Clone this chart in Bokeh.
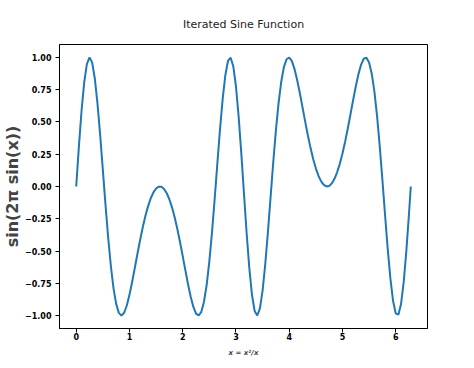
from bokeh.plotting import figure
from bokeh.models import FixedTicker, CustomJSTickFormatter, Range1d
from bokeh.embed import file_html
from bokeh.resources import INLINE

x_vals = [0.00, 0.05, 0.10, 0.15, 0.20, 0.25, 0.30, 0.35, 0.40, 0.45,
          0.50, 0.55, 0.60, 0.65, 0.70, 0.75, 0.80, 0.85, 0.90, 0.95,
          1.00, 1.05, 1.10, 1.15, 1.20, 1.25, 1.30, 1.35, 1.40, 1.45,
          1.50, 1.55, 1.60, 1.65, 1.70, 1.75, 1.80, 1.85, 1.90, 1.95,
          2.00, 2.05, 2.10, 2.15, 2.20, 2.25, 2.30, 2.35, 2.40, 2.45,
          2.50, 2.55, 2.60, 2.65, 2.70, 2.75, 2.80, 2.85, 2.90, 2.95,
          3.00, 3.05, 3.10, 3.15, 3.20, 3.25, 3.30, 3.35, 3.40, 3.45,
          3.50, 3.55, 3.60, 3.65, 3.70, 3.75, 3.80, 3.85, 3.90, 3.95,
          4.00, 4.05, 4.10, 4.15, 4.20, 4.25, 4.30, 4.35, 4.40, 4.45,
          4.50, 4.55, 4.60, 4.65, 4.70, 4.75, 4.80, 4.85, 4.90, 4.95,
          5.00, 5.05, 5.10, 5.15, 5.20, 5.25, 5.30, 5.35, 5.40, 5.45,
          5.50, 5.55, 5.60, 5.65, 5.70, 5.75, 5.80, 5.85, 5.90, 5.95,
          6.00, 6.05, 6.10, 6.15, 6.20, 6.25, 6.2832]

y_vals = [0.0000, 0.3088, 0.5870, 0.8070, 0.9484, 0.9999, 0.9593, 0.8344, 0.6402, 0.3973,
          0.1290, -0.1421, -0.3951, -0.6139, -0.7871, -0.9091, -0.9790, -1.0000, -0.9782, -0.9216,
          -0.8393, -0.7402, -0.6316, -0.5210, -0.4142, -0.3151, -0.2270, -0.1520, -0.0913, -0.0457,
          -0.0157, -0.0014, -0.0027, -0.0197, -0.0523, -0.1005, -0.1635, -0.2409, -0.3310, -0.4316,
          -0.5395, -0.6501, -0.7574, -0.8546, -0.9332, -0.9845, -0.9996, -0.9708, -0.8923, -0.7615,
          -0.5800, -0.3546, -0.0972, 0.1749, 0.4406, 0.6769, 0.8607, 0.9724, 0.9977, 0.9307,
          0.7749, 0.5436, 0.2583, -0.0528, -0.3585, -0.6286, -0.8367, -0.9635, -0.9994, -0.9439,
          -0.8061, -0.6022, -0.3533, -0.0830, 0.1864, 0.4346, 0.6464, 0.8114, 0.9245, 0.9858,
          0.9991, 0.9708, 0.9094, 0.8236, 0.7221, 0.6129, 0.5027, 0.3968, 0.2994, 0.2134,
          0.1407, 0.0826, 0.0396, 0.0122, 0.0005, 0.0044, 0.0241, 0.0593, 0.1101, 0.1756,
          0.2553, 0.3473, 0.4495, 0.5580, 0.6686, 0.7747, 0.8693, 0.9440, 0.9898, 0.9981,
          0.9612, 0.8740, 0.7344, 0.5449, 0.3132, 0.0520, -0.2205, -0.4830, -0.7120, -0.8851,
          -0.9829, -0.9929, -0.9105, -0.7409, -0.4986, -0.2069, 0.0000]

x_ticks = [0, 1, 2, 3, 4, 5, 6]
y_ticks = [-1.0, -0.75, -0.5, -0.25, 0.0, 0.25, 0.5, 0.75, 1.0]

title_text = "Iterated Sine Function"
x_label = "x = x²/x"
y_label = "sin(2π sin(x))"

p = figure(frame_width=368, frame_height=284, output_backend="svg", toolbar_location=None,
           x_range=Range1d(-0.314, 6.597), y_range=Range1d(-1.1, 1.1),
           min_border_left=51, min_border_right=39, min_border_top=44, min_border_bottom=32,
           title=title_text)

p.line(x_vals, y_vals, line_color="#1f77b4", line_width=2)

p.title.align = "center"
p.title.text_font = "DejaVu Sans"
p.title.text_font_style = "normal"
p.title.text_font_size = "11px"
p.title.text_color = "#222222"
p.title.offset = 0
p.title.standoff = 27

p.xgrid.visible = False
p.ygrid.visible = False
p.outline_line_color = "black"
p.outline_line_width = 1
p.background_fill_color = "white"
p.border_fill_color = "white"

for ax in (p.xaxis[0], p.yaxis[0]):
    ax.axis_line_color = "black"
    ax.major_tick_in = 0
    ax.major_tick_out = 4
    ax.minor_tick_line_color = None
    ax.major_tick_line_color = "black"
    ax.major_label_text_font = "DejaVu Sans"
    ax.major_label_text_font_style = "bold"
    ax.major_label_text_font_size = "8px"
    ax.major_label_text_color = "black"

p.xaxis.major_label_standoff = 0
p.yaxis.major_label_standoff = 4

p.xaxis.ticker = FixedTicker(ticks=x_ticks)
p.yaxis.ticker = FixedTicker(ticks=y_ticks)
p.xaxis.formatter = CustomJSTickFormatter(code="return tick.toFixed(0).replace('-', '\u2212');")
p.yaxis.formatter = CustomJSTickFormatter(code="return tick.toFixed(2).replace('-', '\u2212');")

p.xaxis.axis_label = x_label
p.xaxis.axis_label_text_font = "DejaVu Sans"
p.xaxis.axis_label_text_font_style = "bold italic"
p.xaxis.axis_label_text_font_size = "7px"
p.xaxis.axis_label_standoff = 6

p.yaxis.axis_label = y_label
p.yaxis.axis_label_text_font = "DejaVu Sans"
p.yaxis.axis_label_text_font_style = "bold"
p.yaxis.axis_label_text_font_size = "16px"
p.yaxis.axis_label_standoff = 0

open("out.html", "w").write(file_html(p, INLINE))
